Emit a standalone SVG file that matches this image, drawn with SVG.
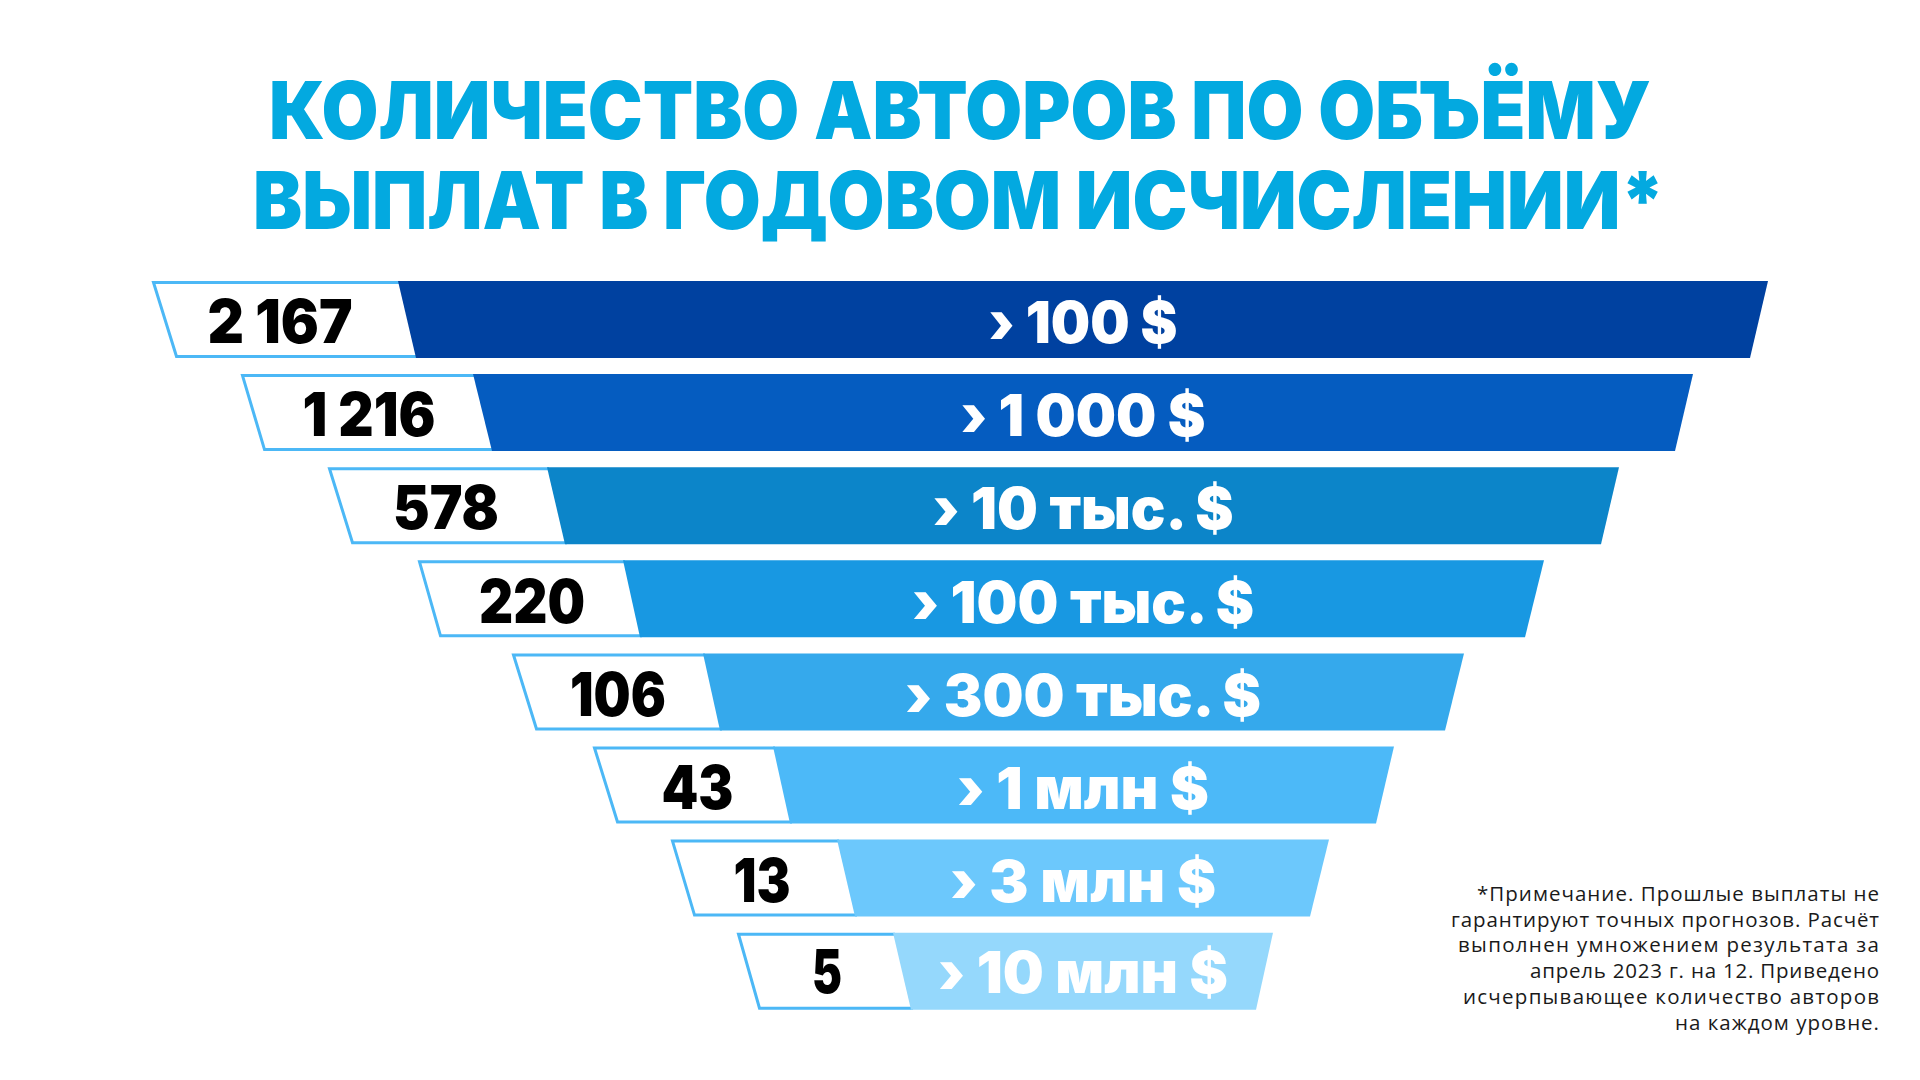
<svg xmlns="http://www.w3.org/2000/svg" width="1920" height="1080" viewBox="0 0 1920 1080">
<style>
.title{font-family:Inter,"Noto Sans",sans-serif;font-weight:900;font-size:80px;fill:#03a9e0}
.num{font-family:Inter,"Noto Sans",sans-serif;font-weight:900;font-size:60px;fill:#000;text-anchor:middle}
.val{font-family:Inter,"Noto Sans",sans-serif;font-weight:900;font-size:58px;fill:#fff;text-anchor:middle}
.box{fill:#fff}
.edge{fill:none;stroke:#4cb8f6;stroke-width:3;stroke-linejoin:miter}
.note{font-family:"Open Sans","Liberation Sans",sans-serif;font-size:20.5px;fill:#1a1a1a;text-anchor:end}
</style>
<rect width="1920" height="1080" fill="#fff"/>
<g id="title">
<text class="title" x="269" y="139" textLength="1382" lengthAdjust="spacingAndGlyphs">КОЛИЧЕСТВО АВТОРОВ ПО ОБЪЁМУ</text>
<text class="title" x="253" y="229" textLength="1412" lengthAdjust="spacingAndGlyphs">ВЫПЛАТ В ГОДОВОМ ИСЧИСЛЕНИИ*</text>
</g>
<g id="row1">
<polygon class="box" points="152,281 405,281 420,358 175,358"/>
<polyline class="edge" points="400,282.5 153.5,282.5 176.5,356.5 418,356.5"/>
<polygon fill="#0041a0" points="398,281 1768,281 1750,358 416,358"/>
<text class="num" x="280" y="343" textLength="145" lengthAdjust="spacingAndGlyphs">2 167</text>
<text class="val" x="1083" y="343" textLength="189" lengthAdjust="spacingAndGlyphs">› 100 $</text>
</g>
<g id="row2">
<polygon class="box" points="241,374.1 478,374.1 495,451.1 263,451.1"/>
<polyline class="edge" points="475,375.6 242.5,375.6 264.5,449.6 494,449.6"/>
<polygon fill="#055cc0" points="473,374.1 1693,374.1 1675,451.1 492,451.1"/>
<text class="num" x="369" y="436" textLength="133" lengthAdjust="spacingAndGlyphs">1 216</text>
<text class="val" x="1083" y="436" textLength="245" lengthAdjust="spacingAndGlyphs">› 1 000 $</text>
</g>
<g id="row3">
<polygon class="box" points="328,467.2 552,467.2 568,544.2 351,544.2"/>
<polyline class="edge" points="549,468.7 329.5,468.7 352.5,542.7 567,542.7"/>
<polygon fill="#0c85c9" points="547,467.2 1619,467.2 1601,544.2 565,544.2"/>
<text class="num" x="446" y="529" textLength="106" lengthAdjust="spacingAndGlyphs">578</text>
<text class="val" x="1083" y="529" textLength="301" lengthAdjust="spacingAndGlyphs">› 10 тыс. $</text>
</g>
<g id="row4">
<polygon class="box" points="418,560.3 628,560.3 643,637.3 439,637.3"/>
<polyline class="edge" points="625,561.8 419.5,561.8 440.5,635.8 642,635.8"/>
<polygon fill="#1898e2" points="623,560.3 1544,560.3 1525,637.3 640,637.3"/>
<text class="num" x="532" y="622.5" textLength="106" lengthAdjust="spacingAndGlyphs">220</text>
<text class="val" x="1083" y="622.5" textLength="342" lengthAdjust="spacingAndGlyphs">› 100 тыс. $</text>
</g>
<g id="row5">
<polygon class="box" points="512,653.4 708,653.4 723,730.4 535,730.4"/>
<polyline class="edge" points="705,654.9 513.5,654.9 536.5,728.9 722,728.9"/>
<polygon fill="#35a9ec" points="703,653.4 1464,653.4 1445,730.4 720,730.4"/>
<text class="num" x="618" y="716" textLength="96" lengthAdjust="spacingAndGlyphs">106</text>
<text class="val" x="1083" y="716" textLength="356" lengthAdjust="spacingAndGlyphs">› 300 тыс. $</text>
</g>
<g id="row6">
<polygon class="box" points="593,746.5 778,746.5 793,823.5 616,823.5"/>
<polyline class="edge" points="775,748 594.5,748 617.5,822 792,822"/>
<polygon fill="#4cb9f8" points="773,746.5 1394,746.5 1376,823.5 790,823.5"/>
<text class="num" x="697.5" y="809" textLength="72" lengthAdjust="spacingAndGlyphs">43</text>
<text class="val" x="1083" y="809" textLength="252" lengthAdjust="spacingAndGlyphs">› 1 млн $</text>
</g>
<g id="row7">
<polygon class="box" points="671,839.6 842,839.6 858,916.6 693,916.6"/>
<polyline class="edge" points="839,841.1 672.5,841.1 694.5,915.1 857,915.1"/>
<polygon fill="#6cc8fc" points="837,839.6 1329,839.6 1310,916.6 855,916.6"/>
<text class="num" x="762" y="901.5" textLength="57" lengthAdjust="spacingAndGlyphs">13</text>
<text class="val" x="1083" y="901.5" textLength="266" lengthAdjust="spacingAndGlyphs">› 3 млн $</text>
</g>
<g id="row8">
<polygon class="box" points="737,932.7 898,932.7 914,1009.7 758,1009.7"/>
<polyline class="edge" points="895,934.2 738.5,934.2 759.5,1008.2 913,1008.2"/>
<polygon fill="#95d8fc" points="893,932.7 1273,932.7 1256,1009.7 911,1009.7"/>
<text class="num" x="827" y="993" textLength="30" lengthAdjust="spacingAndGlyphs">5</text>
<text class="val" x="1083" y="993" textLength="290" lengthAdjust="spacingAndGlyphs">› 10 млн $</text>
</g>
<g id="connectors"></g>
<g id="footnote">
<text class="note" x="1879" y="900.7" textLength="402" lengthAdjust="spacing">*Примечание. Прошлые выплаты не</text>
<text class="note" x="1879" y="926.7" textLength="428" lengthAdjust="spacing">гарантируют точных прогнозов. Расчёт</text>
<text class="note" x="1879" y="952.2" textLength="421" lengthAdjust="spacing">выполнен умножением результата за</text>
<text class="note" x="1879" y="978.2" textLength="349" lengthAdjust="spacing">апрель 2023 г. на 12. Приведено</text>
<text class="note" x="1879" y="1004.2" textLength="416" lengthAdjust="spacing">исчерпывающее количество авторов</text>
<text class="note" x="1879" y="1030.2" textLength="204" lengthAdjust="spacing">на каждом уровне.</text>
</g>
</svg>
